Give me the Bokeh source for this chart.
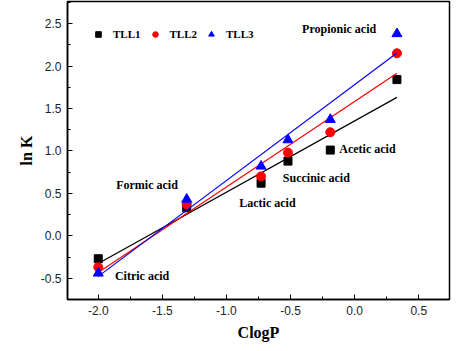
import numpy as np
from bokeh.plotting import figure
from bokeh.models import FixedTicker, PrintfTickFormatter, Legend, LegendItem, Label
from bokeh.embed import file_html
from bokeh.resources import INLINE

clogp = [-2.00, -1.31, -0.73, -0.52, -0.19, 0.33]
acids = ["Citric acid", "Formic acid", "Lactic acid", "Succinic acid", "Acetic acid", "Propionic acid"]
tll1 = [-0.27, 0.33, 0.62, 0.88, 1.01, 1.84]
tll2 = [-0.37, 0.37, 0.70, 0.98, 1.22, 2.15]
tll3 = [-0.44, 0.43, 0.82, 1.13, 1.37, 2.38]
series_names = ["TLL1", "TLL2", "TLL3"]
x_ticks = [-2.0, -1.5, -1.0, -0.5, 0.0, 0.5]
y_ticks = [-0.5, 0.0, 0.5, 1.0, 1.5, 2.0, 2.5]

p = figure(width=474, height=351, output_backend="svg", toolbar_location=None,
           x_range=(-2.24, 0.74), y_range=(-0.75, 2.76),
           min_border_left=67, min_border_right=25, min_border_top=1, min_border_bottom=52)
p.grid.visible = False
p.outline_line_color = "black"
p.outline_line_width = 1.5
p.background_fill_color = "white"
p.border_fill_color = "white"

for ax, ticks in ((p.xaxis[0], x_ticks), (p.yaxis[0], y_ticks)):
    mids = [(a + b) / 2 for a, b in zip(ticks[:-1], ticks[1:])]
    mids = [ticks[0] - 0.25] + mids + [ticks[-1] + 0.25]
    ax.ticker = FixedTicker(ticks=ticks, minor_ticks=mids)
    ax.formatter = PrintfTickFormatter(format="%.1f")
    ax.major_tick_in = 5
    ax.major_tick_out = 0
    ax.minor_tick_in = 3
    ax.minor_tick_out = 0
    ax.axis_line_width = 1.5
    ax.axis_line_color = "black"
    ax.major_tick_line_color = "black"
    ax.minor_tick_line_color = "black"
    ax.major_label_text_font = "Liberation Sans"
    ax.major_label_text_font_size = "12px"
    ax.major_label_text_color = "#222222"
    ax.major_label_standoff = 6
    ax.axis_label_text_font = "Liberation Serif"
    ax.axis_label_text_font_style = "bold"
    ax.axis_label_text_font_size = "16px"
    ax.axis_label_text_color = "black"

p.xaxis.axis_label = "ClogP"
p.yaxis.axis_label = "ln K"
p.xaxis.axis_label_standoff = 6
p.yaxis.axis_label_standoff = 3

colors = ["black", "red", "blue"]
markers = ["square", "circle", "triangle"]
sizes = [8, 9, 10]
items = []
xs = np.array(clogp)
for name, ys, c, m, s in zip(series_names, [tll1, tll2, tll3], colors, markers, sizes):
    k, b = np.polyfit(xs, np.array(ys), 1)
    xl = [xs.min(), xs.max()]
    p.line(xl, [k * v + b for v in xl], line_color=c, line_width=1.2)
    r = p.scatter(clogp, ys, marker=m, size=s, fill_color=c, line_color=c)
    items.append(LegendItem(label=name, renderers=[r]))

legend = Legend(items=items, orientation="horizontal", location=(21, 258),
                label_text_font="Liberation Serif", label_text_font_style="bold",
                label_text_font_size="11px", label_text_color="black",
                glyph_width=20, glyph_height=14, label_standoff=5, spacing=4,
                padding=0, margin=0, border_line_color=None, background_fill_alpha=0)
p.add_layout(legend)

label_pos = {
    "Citric acid": (-1.87, -0.56),
    "Formic acid": (-1.86, 0.52),
    "Lactic acid": (-0.90, 0.31),
    "Succinic acid": (-0.56, 0.60),
    "Acetic acid": (-0.12, 0.94),
    "Propionic acid": (-0.41, 2.35),
}
for a in acids:
    lx, ly = label_pos[a]
    p.add_layout(Label(x=lx, y=ly, text=a, text_font="Liberation Serif",
                       text_font_style="bold", text_font_size="12px", text_color="black"))

open("out.html", "w").write(file_html(p, INLINE))
